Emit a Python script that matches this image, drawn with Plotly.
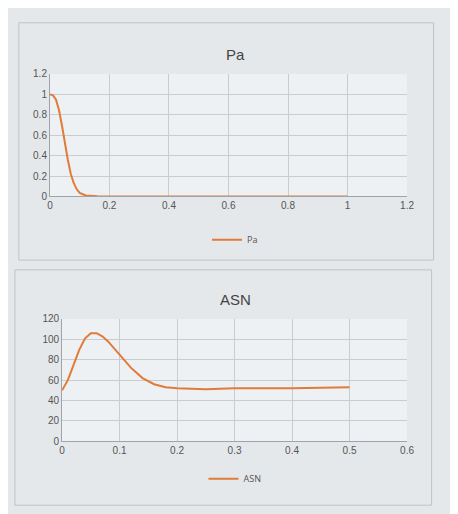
import plotly.graph_objects as go

pa_x = [0, 0.01, 0.02, 0.03, 0.04, 0.05, 0.06, 0.07, 0.08, 0.09, 0.1, 0.12, 0.14, 0.16, 0.2, 0.4, 0.6, 0.8, 1.0]
pa_y = [1, 0.99, 0.95, 0.85, 0.7, 0.52, 0.36, 0.22, 0.13, 0.07, 0.035, 0.01, 0.003, 0.001, 0, 0, 0, 0, 0]
asn_x = [0, 0.01, 0.02, 0.03, 0.04, 0.05, 0.06, 0.07, 0.08, 0.1, 0.12, 0.14, 0.16, 0.18, 0.2, 0.25, 0.3, 0.4, 0.5]
asn_y = [50, 60, 75, 90, 101, 106, 106, 103, 98, 85, 72, 62, 56, 53, 52, 51, 52, 52, 53]

orange = "#e07b39"
fig = go.Figure()
fig.add_trace(go.Scatter(x=pa_x, y=pa_y, mode="lines", name="Pa", line=dict(color=orange, width=2), xaxis="x", yaxis="y", legend="legend"))
fig.add_trace(go.Scatter(x=asn_x, y=asn_y, mode="lines", name="ASN", line=dict(color=orange, width=2), xaxis="x2", yaxis="y2", legend="legend2"))

ax = dict(showgrid=True, gridcolor="#c9cdd0", zeroline=False, showline=True, linecolor="#a0a4a8",
          tickfont=dict(family="Liberation Sans", size=10, color="#555"), ticks="")
fig.update_layout(
    width=458, height=514, margin=dict(l=0, r=0, t=0, b=0),
    paper_bgcolor="#e4e8eb", plot_bgcolor="#eef1f3",
    xaxis=dict(ax, domain=[0.087, 0.884], range=[0, 1.2], dtick=0.2, anchor="y"),
    yaxis=dict(ax, domain=[0.636, 0.879], range=[0, 1.2], dtick=0.2, anchor="x"),
    xaxis2=dict(ax, domain=[0.114, 0.884], range=[0, 0.6], dtick=0.1, anchor="y2"),
    yaxis2=dict(ax, domain=[0.150, 0.393], range=[0, 120], dtick=20, anchor="x2"),
    legend=dict(x=0.5, y=0.55, xanchor="center", yanchor="middle", bgcolor="rgba(0,0,0,0)", font=dict(size=9, color="#555")),
    legend2=dict(x=0.5, y=0.076, xanchor="center", yanchor="middle", bgcolor="rgba(0,0,0,0)", font=dict(size=9, color="#555")),
    showlegend=True,
    annotations=[
        dict(text="Pa", x=0.5, y=1-32/514, xref="paper", yref="paper", showarrow=False, font=dict(family="Liberation Sans", size=15, color="#444")),
        dict(text="ASN", x=0.5, y=1-292/514, xref="paper", yref="paper", showarrow=False, font=dict(family="Liberation Sans", size=15, color="#444")),
    ],
    shapes=[
        dict(type="rect", xref="paper", yref="paper", x0=8/458, x1=432/458, y0=1-252/514, y1=1-10/514, line=dict(color="#bfc3c6", width=1), layer="below"),
        dict(type="rect", xref="paper", yref="paper", x0=4/458, x1=430/458, y0=1-502/514, y1=1-262/514, line=dict(color="#bfc3c6", width=1), layer="below"),
    ],
)
fig.write_html("out.html")
